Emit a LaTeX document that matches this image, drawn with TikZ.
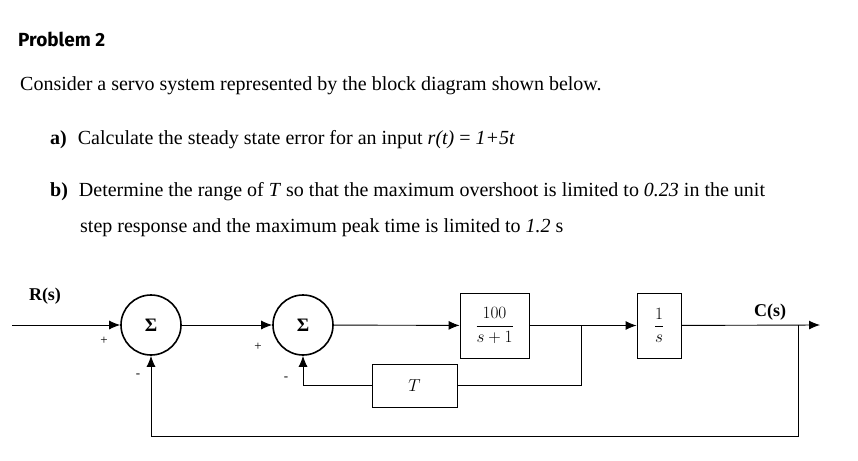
\documentclass[tikz,border=0pt]{standalone}
\usepackage{fontspec}
\usetikzlibrary{arrows.meta}
\setmainfont{Liberation Serif}
\newfontfamily\hdr{Fira Sans}
\begin{document}
\begin{tikzpicture}[x=1pt,y=-1pt,
  blk/.style={draw,line width=0.9pt,inner sep=0pt,font=\fontsize{17}{20}\selectfont},
  sum/.style={draw,circle,line width=1.6pt,minimum size=60pt,inner sep=0pt,font=\fontsize{19}{20}\selectfont\bfseries},
  ln/.style={line width=0.9pt},
  arr/.style={ln,-{Latex[length=11pt,width=9pt]}},
  txt/.style={anchor=base west,inner sep=0pt,font=\fontsize{20}{22}\selectfont},
  sg/.style={font=\fontsize{13}{15}\selectfont,inner sep=0pt}]
\useasboundingbox (0,0) rectangle (858,460);
\node[txt,font=\hdr\bfseries\fontsize{19}{22}\selectfont] (p) at (18,47) {Problem 2};
\node[txt] (c) at (20,90) {Consider a servo system represented by the block diagram shown below.};
\node[txt] (a) at (50,144) {\textbf{a)}\hspace{11pt}Calculate the steady state error for an input \textit{r(t)} = \textit{1+5t}};
\node[txt] (b) at (50,196) {\textbf{b)}\hspace{11pt}Determine the range of \textit{T} so that the maximum overshoot is limited to \textit{0.23} in the unit};
\node[txt] (b2) at (80,232) {step response and the maximum peak time is limited to \textit{1.2} s};
\node[sum] (s1) at (151,325) {Σ};
\node[sum] (s2) at (303,325) {Σ};
\node[blk,minimum width=69pt,minimum height=65pt] (g) at (494.5,325.5) {$\displaystyle\frac{100}{s+1}$};
\node[blk,minimum width=44pt,minimum height=65pt] (i) at (659,325.5) {$\displaystyle\frac{1}{s}$};
\node[blk,minimum width=85pt,minimum height=43pt] (t) at (414.5,385.5) {$T$};
\coordinate (in) at (12,325);
\coordinate (out) at (820,325);
\coordinate (br1) at (581,325);
\coordinate (br2) at (798,325);
\draw[arr] (in) -- (s1);
\draw[arr] (s1) -- (s2);
\draw[arr] (s2) -- (g);
\draw[arr] (g) -- (i);
\draw[arr] (i) -- (out);
\draw[ln] (br1) |- (t.east);
\draw[arr] (t.west) -| (s2);
\draw[arr] (br2) |- (151,436) -- (s1);
\node[sg] at (104,341) {+};
\node[sg] at (138,376) {-};
\node[sg] at (258,347) {+};
\node[sg] at (286,379) {-};
\node[font=\bfseries\fontsize{18}{20}\selectfont,inner sep=0pt] (r) at (45,296) {R(s)};
\node[font=\bfseries\fontsize{18}{20}\selectfont,inner sep=0pt] (cs) at (770,312) {C(s)};
\end{tikzpicture}
\end{document}
